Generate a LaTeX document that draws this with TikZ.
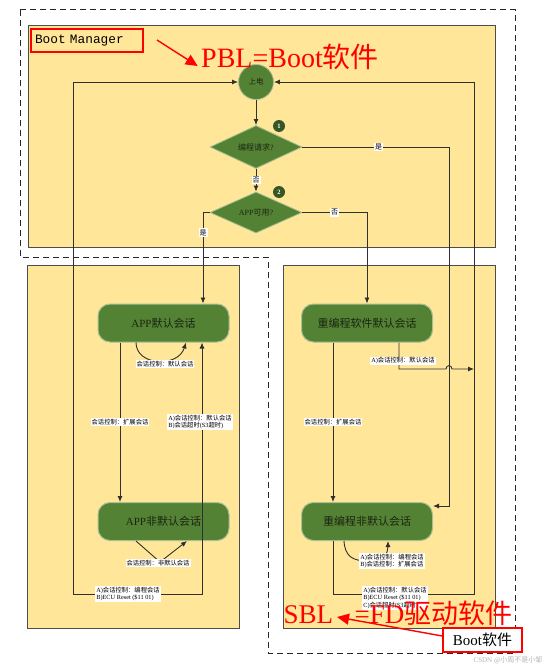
\documentclass[tikz,border=0pt]{standalone}
\usepackage{fontspec}
\setmainfont{Liberation Serif}
\newfontfamily\cjkfont{Noto Sans CJK SC}
\newfontfamily\monofont{Liberation Mono}
\newcommand\cjt[1]{{\cjkfont #1}}
\usetikzlibrary{shapes.geometric,arrows.meta}
\definecolor{panelfill}{HTML}{FFE699}
\definecolor{nodegreen}{HTML}{548235}
\definecolor{nodeedge}{HTML}{A9BF95}
\definecolor{badgegreen}{HTML}{375623}
\definecolor{linec}{HTML}{303030}
\definecolor{nodetext}{HTML}{1A2410}
\tikzset{
  panel/.style={draw=black!70, fill=panelfill, line width=0.9pt},
  state/.style={rounded corners=12pt, fill=nodegreen, draw=nodeedge, line width=1pt,
    minimum width=131pt, minimum height=38pt, inner sep=0pt,
    font=\fontsize{11}{13}\selectfont, text=nodetext},
  decision/.style={diamond, fill=nodegreen, draw=nodeedge, line width=0.8pt,
    minimum width=92pt, minimum height=37pt, inner sep=0pt,
    font=\fontsize{8}{9}\selectfont, text=nodetext},
  startnode/.style={circle, fill=nodegreen, draw=nodeedge, line width=0.8pt,
    minimum size=35pt, inner sep=0pt, font=\fontsize{7.5}{8}\selectfont, text=nodetext},
  badge/.style={circle, fill=badgegreen, minimum size=12pt, inner sep=0pt,
    text=white, font=\bfseries\fontsize{6.5}{7}\selectfont},
  conn/.style={draw=linec, line width=0.9pt},
  arr/.style={conn, -{Latex[length=6pt,width=5pt]}},
  lbl/.style={fill=white, inner sep=1pt, font=\fontsize{6.3}{7.6}\selectfont, align=left},
  yn/.style={fill=white, inner sep=1pt, font=\fontsize{7}{8}\selectfont},
  redbox/.style={draw=red, line width=1.5pt, fill=white},
  redarrow/.style={draw=red, line width=1.4pt, -{Triangle[length=12pt,width=11pt]}},
}
\begin{document}
\begin{tikzpicture}[x=1pt,y=-1pt]
\useasboundingbox (0,0) rectangle (546,669);
% dashed outline
\draw[dash pattern=on 6pt off 4pt, line width=1pt, black!85]
  (20,10) -- (515,10) -- (515,653) -- (268,653) -- (268,257) -- (20,257) -- cycle;
% panels
\draw[panel] (28,25) rectangle (495,247);
\draw[panel] (27,265) rectangle (239,628);
\draw[panel] (283,265) rectangle (495,628);

% nodes
\node[startnode] (pwr) at (256,82) {\cjt{上电}};
\node[decision] (d1) at (256,147) {\cjt{编程请求}?};
\node[decision] (d2) at (256,212.5) {APP\cjt{可用}?};
\node[badge] (b1) at (279,126) {1};
\node[badge] (b2) at (279,192) {2};
\node[state] (appD) at (163.5,323) {APP\cjt{默认会话}};
\node[state] (appND) at (163.5,521.5) {APP\cjt{非默认会话}};
\node[state] (rpD) at (367,323) {\cjt{重编程软件默认会话}};
\node[state] (rpND) at (367,521.5) {\cjt{重编程非默认会话}};

% connectors in top box
\draw[arr] (pwr) -- (d1);
\draw[arr] (d1) -- node[yn]{\cjt{否}} (d2);
\coordinate (jr1) at (449,147);
\coordinate (jr2) at (449,506);
\draw[arr] (d1.east) -- node[yn, pos=0.52]{\cjt{是}} (jr1) -- (jr2) -- (rpND.east |- jr2);
\draw[arr] (d2.east) -| node[yn, pos=0.25]{\cjt{否}} (rpD.north);
\coordinate (jl1) at (203,212.5);
\draw[arr] (d2.west) -- (jl1) -- node[yn, pos=0.22]{\cjt{是}} (appD.north -| jl1);

% left panel
\draw[arr] (appD.south -| 120,0) -- node[lbl]{\cjt{会话控制：扩展会话}} (appND.north -| 120,0);
\coordinate (ll1) at (73,82);
\coordinate (ll2) at (73,594);
\coordinate (ll3) at (202,594);
\draw[conn, {Latex[length=6pt,width=5pt]}-{Latex[length=6pt,width=5pt]}]
  (pwr.west) -- (ll1) -- (ll2) -- (ll3) -- (appD.south -| ll3);
\node[lbl] (lA) at (200,422) {A)\cjt{会话控制：默认会话}\\B)\cjt{会话超时}(S3\cjt{超时})};
\node[lbl] (lB) at (128,594) {A)\cjt{会话控制：编程会话}\\B)ECU Reset (\$11 01)};
\draw[arr] (appD.south -| 136,0) .. controls (136,366) and (178,368) .. (appD.south -| 186,0);
\node[lbl] (lC) at (165,364) {\cjt{会话控制：默认会话}};
\draw[arr] (appND.south -| 136,0) -- (160,562) -- (appND.south -| 187,0);
\node[lbl] (lD) at (158,563) {\cjt{会话控制：非默认会话}};

% right panel
\draw[arr] (rpD.south -| 333,0) -- node[lbl]{\cjt{会话控制：扩展会话}} (rpND.north -| 333,0);
\coordinate (rl1) at (474,82);
\coordinate (rl2) at (474,594);
\coordinate (rl3) at (333,594);
\draw[conn, {Latex[length=6pt,width=5pt]}-]
  (pwr.east) -- (rl1) -- (rl2) -- (rl3) -- (rpND.south -| rl3);
\coordinate (rm1) at (399,369);
\coordinate (rm2) at (474,369);
\draw[arr] (rpD.south -| rm1) -- (rm1) -- (446,369) .. controls (446,364.5) and (452,364.5) .. (452,369) -- (rm2);
\node[lbl] (lE) at (403,361) {A)\cjt{会话控制：默认会话}};
\draw[arr] (rpND.south -| 344,0) .. controls (345,556) and (352,561) .. (368,561)
  .. controls (384,561) and (388,553) .. (rpND.south -| 388,0);
\node[lbl] (lF) at (392,561) {A)\cjt{会话控制：编程会话}\\B)\cjt{会话控制：扩展会话}};
\node[lbl] (lG) at (395,598) {A)\cjt{会话控制：默认会话}\\B)ECU Reset (\$11 01)\\C)\cjt{会话超时}(S3\cjt{超时})};

% red annotations
\node[redbox, fill=none, minimum width=112pt, minimum height=23pt, inner sep=0pt,
  text width=104pt, align=left,
  font=\monofont\fontsize{12.8}{13}\selectfont] (bm) at (87,40.5) {Boot Manager};
\node[text=red, font=\fontsize{28}{30}\selectfont] (pbl) at (290,57) {PBL=Boot\cjt{软件}};
\coordinate (pa) at (157,40);
\draw[redarrow] (pa) -- (pbl.west |- 0,66);
\node[text=red, font=\fontsize{27}{29}\selectfont] (sbl) at (398,613) {SBL\hspace{0.8em}=FD\cjt{驱动软件}};
\node[redbox, minimum width=79pt, minimum height=24pt, inner sep=0pt,
  font=\fontsize{15}{16}\selectfont] (bsw) at (482.5,640) {Boot\cjt{软件}};
\draw[redarrow] (bsw.west |- 0,636) -- (337,617);
\node[text=black!30, anchor=east, font=\fontsize{7}{8}\selectfont] (wm) at (546,660) {CSDN @\cjt{小周不是小邹}};
\end{tikzpicture}
\end{document}
